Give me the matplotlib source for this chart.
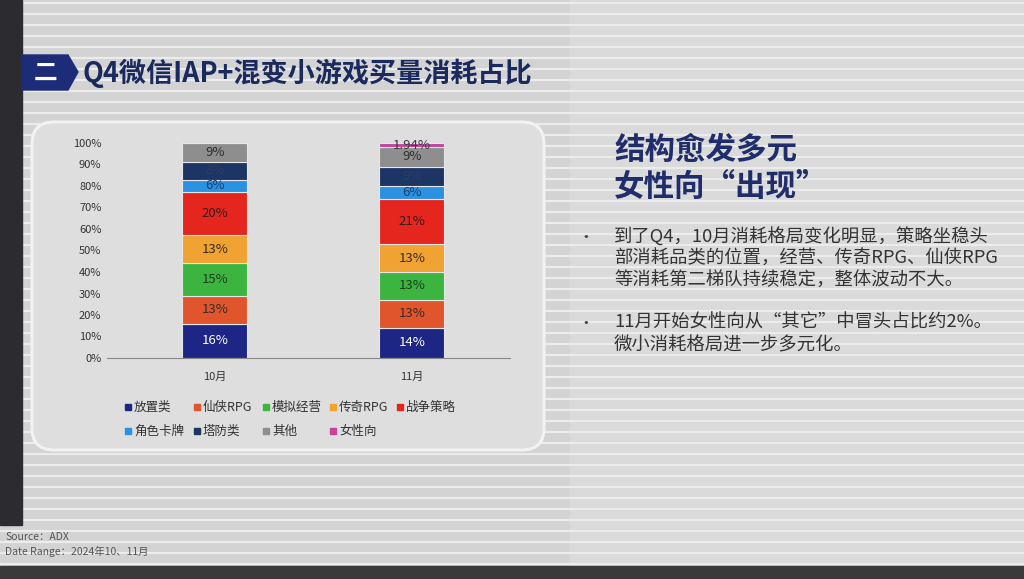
import matplotlib
matplotlib.use("Agg")
import matplotlib.pyplot as plt
from matplotlib.patches import FancyBboxPatch, Rectangle, Polygon
import numpy as np

plt.rcParams['font.family'] = ['Noto Sans CJK SC', 'DejaVu Sans']

months = ['10月', '11月']
categories = ['放置类', '仙侠RPG', '模拟经营', '传奇RPG', '战争策略', '角色卡牌', '塔防类', '其他', '女性向']
oct_vals = [16, 13, 15, 13, 20, 6, 8, 9, 0]
nov_vals = [14, 13, 13, 13, 21, 6, 9, 9, 1.94]
colors = ['#1d2585', '#e0552b', '#3bb540', '#f0a232', '#e4261f', '#2b92e3', '#1d3564', '#8e8e8e', '#c2449c']
label_colors = ['white', '#3a2a2a', '#1f3d1f', '#3a2a1a', '#3a1a1a', '#14406e', '#2a3d66', '#2e2e2e', '#3a3a3a']
yticks = [0, 10, 20, 30, 40, 50, 60, 70, 80, 90, 100]

W, H = 1024, 579
fig = plt.figure(figsize=(W / 100, H / 100), dpi=100)
fig.patch.set_facecolor('#d3d3d3')

# background layer
bg = fig.add_axes([0, 0, 1, 1])
bg.set_xlim(0, W)
bg.set_ylim(H, 0)
bg.axis('off')
bg.add_patch(Rectangle((570, 0), W - 570, H, color='#dadada', zorder=0))
for yy in np.arange(3, H, 11.0):
    bg.axhline(yy, color='#ececec', lw=1.6, zorder=0.5)
bg.add_patch(Rectangle((0, 0), 22, 525, color='#2b2b30', zorder=1))
bg.add_patch(Rectangle((0, 566), W, 13, color='#3a3a3a', zorder=1))
# chart panel
bg.add_patch(FancyBboxPatch((32, 122), 512, 328, boxstyle='round,pad=0,rounding_size=22',
                            facecolor='#dedede', edgecolor='#f2f2f2', lw=2.2, zorder=1))
# title tag
bg.add_patch(Polygon([(22, 55), (68, 55), (78, 72), (68, 90), (22, 90)], closed=True,
                     color='#1c2c78', zorder=2))
bg.text(46, 73, '二', color='white', fontsize=17, fontweight='bold', ha='center', va='center', zorder=3)
bg.text(82, 73, 'Q4微信IAP+混变小游戏买量消耗占比', color='#1b2a5e', fontsize=19.5,
        fontweight='bold', ha='left', va='center', zorder=3)

# right text
bg.text(614, 150, '结构愈发多元', color='#1f2d6b', fontsize=22, fontweight='bold', ha='left', va='center', zorder=3)
bg.text(614, 187, '女性向“出现”', color='#1f2d6b', fontsize=22, fontweight='bold', ha='left', va='center', zorder=3)
lines1 = ['到了Q4，10月消耗格局变化明显，策略坐稳头', '部消耗品类的位置，经营、传奇RPG、仙侠RPG', '等消耗第二梯队持续稳定，整体波动不大。']
lines2 = ['11月开始女性向从“其它”中冒头占比约2%。', '微小消耗格局进一步多元化。']
for i, t in enumerate(lines1):
    bg.text(614, 237 + i * 22, t, color='#333333', fontsize=13.2, ha='left', va='center', zorder=3)
for i, t in enumerate(lines2):
    bg.text(614, 323 + i * 22, t, color='#333333', fontsize=13.2, ha='left', va='center', zorder=3)
bg.text(586, 237, '•', color='#444444', fontsize=12, ha='center', va='center', zorder=3)
bg.text(586, 323, '•', color='#444444', fontsize=12, ha='center', va='center', zorder=3)

bg.text(5, 537, 'Source：ADX', color='#555555', fontsize=7.5, ha='left', va='center', zorder=3)
bg.text(5, 551, 'Date Range：2024年10、11月', color='#555555', fontsize=7.5, ha='left', va='center', zorder=3)

# legend (manual, two rows)
leg_x = [128, 197, 266, 333, 400]
for i, (cat, col) in enumerate(zip(categories, colors)):
    r, c = divmod(i, 5)
    x0 = leg_x[c]
    y0 = 407 + r * 24
    bg.add_patch(Rectangle((x0 - 3, y0 - 3), 6, 6, color=col, zorder=3))
    bg.text(x0 + 6, y0, cat, color='#333333', fontsize=9, ha='left', va='center', zorder=3)

# chart axes
ax = fig.add_axes([107 / W, (H - 358) / H, 403 / W, 215 / H])
ax.set_facecolor('none')
data = np.array([oct_vals, nov_vals])
xpos = np.arange(len(months))
bottoms = np.zeros(len(months))
for j, cat in enumerate(categories):
    vals = data[:, j]
    ax.bar(xpos, vals, bottom=bottoms, width=0.33, color=colors[j],
           edgecolor='#e6e6e6', linewidth=0.8, zorder=2)
    for k, v in enumerate(vals):
        if v > 0:
            txt = f'{v:g}%' if v != int(v) else f'{int(v)}%'
            ax.text(xpos[k], bottoms[k] + v / 2, txt, ha='center', va='center',
                    fontsize=9.5, color=label_colors[j], zorder=3)
    bottoms = bottoms + vals

ax.set_xlim(-0.548, 1.498)
ax.set_ylim(0, 100)
ax.set_yticks(yticks)
ax.set_yticklabels([f'{v}%' for v in yticks], fontsize=8, color='#333333')
ax.set_xticks(xpos)
ax.set_xticklabels(months, fontsize=8, color='#333333')
ax.tick_params(axis='both', length=0, pad=4)
ax.tick_params(axis='x', pad=10)
for s in ['top', 'right', 'left']:
    ax.spines[s].set_visible(False)
ax.spines['bottom'].set_color('#888888')
ax.spines['bottom'].set_linewidth(0.8)

fig.savefig('out.png', dpi=100, facecolor=fig.get_facecolor())
